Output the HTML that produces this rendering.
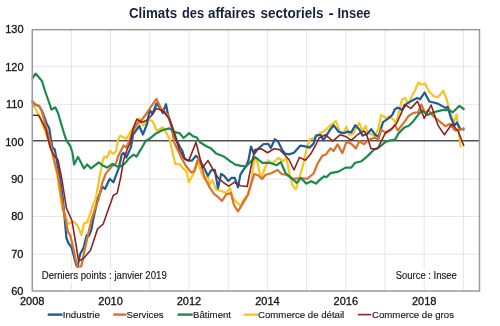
<!DOCTYPE html>
<html><head><meta charset="utf-8"><style>
html,body{margin:0;padding:0;background:#fff;width:500px;height:326px;overflow:hidden}
svg{display:block;font-family:"Liberation Sans",sans-serif;filter:blur(0.35px)}
</style></head><body>
<svg width="500" height="326" viewBox="0 0 500 326">
<rect x="0" y="0" width="500" height="326" fill="#ffffff"/>
<line x1="32.3" y1="66.7" x2="479.5" y2="66.7" stroke="#e6e6e6" stroke-width="1"/>
<line x1="32.3" y1="104.3" x2="479.5" y2="104.3" stroke="#e6e6e6" stroke-width="1"/>
<line x1="32.3" y1="179.1" x2="479.5" y2="179.1" stroke="#e6e6e6" stroke-width="1"/>
<line x1="32.3" y1="216.5" x2="479.5" y2="216.5" stroke="#e6e6e6" stroke-width="1"/>
<line x1="32.3" y1="254.2" x2="479.5" y2="254.2" stroke="#e6e6e6" stroke-width="1"/>
<line x1="71.4" y1="29.7" x2="71.4" y2="291.0" stroke="#e6e6e6" stroke-width="1"/>
<line x1="110.6" y1="29.7" x2="110.6" y2="291.0" stroke="#e6e6e6" stroke-width="1"/>
<line x1="149.8" y1="29.7" x2="149.8" y2="291.0" stroke="#e6e6e6" stroke-width="1"/>
<line x1="189.0" y1="29.7" x2="189.0" y2="291.0" stroke="#e6e6e6" stroke-width="1"/>
<line x1="228.2" y1="29.7" x2="228.2" y2="291.0" stroke="#e6e6e6" stroke-width="1"/>
<line x1="267.4" y1="29.7" x2="267.4" y2="291.0" stroke="#e6e6e6" stroke-width="1"/>
<line x1="306.6" y1="29.7" x2="306.6" y2="291.0" stroke="#e6e6e6" stroke-width="1"/>
<line x1="345.8" y1="29.7" x2="345.8" y2="291.0" stroke="#e6e6e6" stroke-width="1"/>
<line x1="385.0" y1="29.7" x2="385.0" y2="291.0" stroke="#e6e6e6" stroke-width="1"/>
<line x1="424.2" y1="29.7" x2="424.2" y2="291.0" stroke="#e6e6e6" stroke-width="1"/>
<line x1="463.4" y1="29.7" x2="463.4" y2="291.0" stroke="#e6e6e6" stroke-width="1"/>
<line x1="32.3" y1="140.8" x2="479.5" y2="140.8" stroke="#525252" stroke-width="1.4"/>
<polyline fill="none" stroke="#f3c623" stroke-width="2.2" stroke-linejoin="round" stroke-linecap="round" points="32.5,104.0 36.1,110.0 39.2,116.0 44.7,130.0 50.0,145.0 54.0,160.0 58.0,180.0 62.4,209.6 64.8,214.4 68.0,224.0 73.6,221.6 77.6,225.6 81.3,235.2 84.0,223.2 87.2,222.4 90.4,212.8 92.0,208.0 95.8,198.5 99.6,176.8 102.4,162.1 104.2,156.6 107.0,157.5 109.7,151.0 113.4,153.8 116.2,151.0 118.0,140.0 120.2,135.8 123.9,137.6 126.4,138.8 130.7,131.5 135.6,124.7 139.2,118.4 143.2,125.6 148.0,119.2 152.8,121.6 156.5,130.3 159.5,129.5 162.6,127.2 166.0,132.0 169.5,139.0 172.0,150.2 175.2,163.8 179.2,163.8 183.2,168.6 186.4,171.0 188.8,182.2 193.6,173.4 197.6,160.6 201.6,173.4 204.8,179.0 208.0,175.0 209.2,185.0 212.4,180.2 216.4,189.8 220.4,190.6 226.0,193.0 230.0,188.2 233.2,198.6 240.5,206.0 244.0,199.0 247.6,194.6 251.6,181.0 254.4,156.4 257.6,162.8 260.8,178.8 264.0,170.0 268.0,160.4 272.0,163.6 278.4,158.0 283.2,161.2 286.4,158.0 290.4,178.0 292.8,186.0 296.0,189.2 300.0,175.6 303.2,164.4 306.8,148.0 310.0,139.2 312.8,138.8 320.8,132.4 324.8,130.8 329.6,126.0 336.0,121.2 340.0,132.4 343.2,133.2 346.4,126.8 348.8,134.8 352.8,134.0 359.2,122.8 362.4,130.8 365.6,126.0 367.4,132.2 374.7,135.9 378.4,128.5 381.2,114.8 386.0,118.0 390.0,116.4 394.0,120.3 395.9,123.0 399.6,110.1 402.0,99.6 405.2,98.0 408.6,104.0 411.6,96.4 414.8,90.8 418.3,82.5 422.0,84.7 425.0,83.5 429.3,91.8 433.6,96.1 437.9,97.2 443.3,90.7 446.5,99.3 449.7,110.1 452.8,120.0 454.5,121.0 456.5,114.5 458.5,130.0 460.5,146.5"/>
<polyline fill="none" stroke="#1d5c94" stroke-width="2.2" stroke-linejoin="round" stroke-linecap="round" points="32.5,101.5 35.0,104.5 39.2,106.2 42.0,111.0 46.8,124.0 49.2,128.0 50.8,138.4 52.4,147.2 54.8,149.6 56.4,158.4 60.0,178.0 63.0,200.0 66.4,238.0 68.4,243.0 71.5,247.3 76.4,265.7 77.6,266.9 80.0,254.6 83.7,247.3 86.8,235.0 88.8,236.0 91.2,230.4 93.6,217.6 97.8,198.9 102.4,186.9 105.1,188.8 109.7,178.7 113.4,182.3 118.9,167.6 121.7,154.7 123.5,152.9 126.3,157.5 130.9,147.4 133.1,134.5 139.3,126.0 142.9,134.5 147.2,123.5 149.6,110.0 152.4,114.0 156.6,103.4 160.0,108.0 162.8,113.0 166.0,104.2 168.0,114.6 171.6,125.2 174.0,132.0 177.0,141.0 180.0,147.0 182.4,151.0 184.8,159.0 188.0,160.6 192.0,160.6 196.0,155.8 199.2,159.0 203.2,166.2 208.0,175.8 211.2,170.2 214.8,169.8 218.0,188.2 221.2,173.8 224.4,176.2 228.4,181.0 231.6,177.8 234.8,177.8 238.0,187.4 240.4,174.6 242.8,170.6 246.0,166.4 248.5,160.0 251.0,146.5 254.0,154.0 258.0,148.8 263.6,144.0 268.4,144.0 270.8,148.0 274.8,139.2 278.0,141.6 282.0,149.6 285.2,153.6 289.2,154.4 294.0,152.8 300.4,145.6 305.2,146.4 309.6,147.6 313.6,143.6 316.0,135.6 320.8,134.8 323.2,140.4 326.4,135.6 330.4,129.2 333.6,125.2 338.4,131.6 343.2,133.2 348.0,131.6 351.2,132.4 355.2,125.2 359.2,129.2 362.4,135.6 367.2,134.0 371.2,129.2 375.2,134.8 378.4,136.8 383.0,122.1 388.5,118.4 392.4,114.8 394.8,109.2 398.0,107.6 402.0,110.0 406.8,103.6 412.4,100.4 417.2,98.0 420.0,99.3 424.6,92.5 429.3,101.5 433.6,102.5 437.9,103.6 445.4,107.9 447.6,106.8 450.8,117.5 454.5,125.5 457.0,122.5 460.3,129.0 463.6,129.5"/>
<polyline fill="none" stroke="#d8722c" stroke-width="2.2" stroke-linejoin="round" stroke-linecap="round" points="32.5,101.0 34.6,104.2 39.2,105.7 41.5,110.3 46.0,126.8 50.8,144.0 54.0,160.0 58.0,175.0 62.0,200.0 64.0,212.0 68.0,232.0 70.2,235.0 73.3,248.5 77.0,266.3 81.3,266.3 84.4,251.0 88.0,235.0 91.2,220.8 95.2,208.0 98.7,198.9 102.4,182.3 106.0,173.1 111.6,166.7 116.2,163.0 118.0,156.6 120.8,151.0 123.5,145.5 126.3,147.4 129.0,141.8 132.0,133.0 137.0,124.0 141.0,121.0 146.4,113.6 151.2,106.4 156.4,99.0 160.8,108.0 167.4,114.6 170.6,123.0 174.4,143.0 180.8,156.6 185.6,165.4 191.2,172.6 194.4,171.0 198.4,158.2 201.6,166.0 204.8,178.2 208.0,184.0 210.0,188.2 214.0,193.8 218.0,197.0 222.0,201.0 226.0,194.6 230.8,193.0 234.0,205.0 238.0,211.4 242.8,203.4 248.0,194.8 251.2,183.6 254.4,174.0 258.4,175.6 262.4,178.8 265.6,174.8 271.2,173.2 277.6,170.0 281.6,174.0 286.4,174.8 292.8,178.8 300.8,178.0 307.2,178.8 313.5,173.5 317.6,163.5 322.4,155.6 325.6,154.8 330.4,148.4 333.6,150.8 337.6,144.4 342.4,153.2 346.4,142.0 351.2,143.6 356.0,148.4 359.2,141.2 363.7,144.2 369.2,139.6 374.7,137.8 378.4,139.6 381.2,129.5 385.8,133.1 390.4,130.4 395.0,124.9 397.8,130.4 404.2,122.1 408.8,115.7 413.4,112.9 418.0,112.4 421.2,104.4 425.2,113.2 428.3,110.1 433.6,116.5 440.1,121.9 445.4,126.2 449.7,124.0 455.1,130.5 461.5,129.4 463.7,128.3"/>
<polyline fill="none" stroke="#1d8a4c" stroke-width="2.2" stroke-linejoin="round" stroke-linecap="round" points="32.5,78.4 35.5,73.6 42.0,81.0 45.0,91.0 47.5,98.0 51.5,109.6 55.3,107.3 58.0,113.0 64.5,135.0 66.5,140.5 70.3,146.0 72.5,153.0 74.1,164.5 78.0,156.9 84.1,168.4 87.2,164.5 91.0,168.4 98.8,162.4 103.3,165.8 107.0,167.6 112.5,163.9 118.9,167.2 124.4,163.9 129.0,158.4 133.7,154.7 136.4,156.6 141.0,149.2 145.6,141.0 150.3,138.2 156.4,133.2 162.8,130.0 169.2,128.4 175.6,132.4 179.6,133.2 183.6,138.0 189.2,133.2 193.2,136.4 196.4,137.2 200.0,142.2 206.4,146.2 211.2,148.6 216.0,153.4 224.0,156.6 230.4,161.4 235.2,164.6 241.2,165.8 246.0,166.4 249.6,162.8 255.2,157.2 262.4,162.8 269.6,162.8 276.8,165.2 280.8,162.0 285.6,173.2 291.2,178.0 296.8,182.8 300.8,178.0 306.4,183.6 311.2,181.2 316.0,183.6 320.0,179.6 324.0,176.4 326.4,177.2 330.4,173.2 338.4,171.6 345.6,167.6 351.2,167.6 355.2,162.8 361.6,161.2 367.2,156.4 373.6,150.0 379.5,147.0 384.9,142.3 389.5,140.5 395.0,139.6 398.7,133.1 404.2,127.6 408.8,125.8 413.4,121.2 418.9,113.8 422.3,110.5 427.5,115.0 433.6,112.2 442.2,110.1 448.7,110.1 452.9,112.2 459.4,105.8 463.7,109.0"/>
<polyline fill="none" stroke="#8a2424" stroke-width="1.6" stroke-linejoin="round" stroke-linecap="round" points="32.5,115.2 38.6,115.2 42.3,121.9 46.0,130.0 50.0,147.2 53.2,154.4 58.0,160.0 62.0,180.0 66.4,208.0 72.0,220.8 75.2,240.0 78.6,260.8 83.1,258.9 90.5,250.3 97.6,228.8 103.2,224.0 108.8,208.0 113.4,195.2 117.1,193.4 120.8,176.8 123.5,160.2 127.2,149.2 130.0,143.7 133.1,128.4 136.8,119.2 141.7,122.3 146.6,120.4 151.5,115.5 156.4,108.4 162.8,110.8 169.2,118.8 174.0,133.2 179.2,149.4 184.0,158.2 188.8,160.6 196.0,142.2 202.4,167.8 208.0,160.6 214.4,171.8 218.4,178.2 224.0,183.0 228.8,186.2 234.4,182.2 240.4,185.8 247.2,186.5 249.6,174.0 252.8,158.0 255.0,149.6 261.2,148.8 267.6,152.8 274.0,148.8 279.6,149.6 284.4,154.4 289.2,160.0 294.0,170.0 299.4,157.4 305.4,160.2 311.2,153.2 315.2,146.0 319.2,138.0 325.6,134.8 332.8,141.2 340.0,134.8 345.6,136.4 351.2,140.4 358.4,134.0 364.0,131.0 366.4,134.1 371.0,148.8 377.5,148.8 382.1,139.6 385.8,132.2 392.2,128.5 396.8,123.0 401.4,112.9 404.4,104.4 410.8,108.4 417.5,101.3 424.2,118.3 431.1,105.0 437.9,125.1 444.4,134.8 451.9,124.0 458.3,131.5 463.7,145.5"/>
<rect x="32.3" y="29.7" width="447.2" height="261.3" fill="none" stroke="#9a9a9a" stroke-width="1.5"/>
<text x="23.5" y="295.1" text-anchor="end" font-size="11" fill="#151515" stroke="#151515" stroke-width="0.3">60</text>
<text x="23.5" y="257.7" text-anchor="end" font-size="11" fill="#151515" stroke="#151515" stroke-width="0.3">70</text>
<text x="23.5" y="220.3" text-anchor="end" font-size="11" fill="#151515" stroke="#151515" stroke-width="0.3">80</text>
<text x="23.5" y="182.9" text-anchor="end" font-size="11" fill="#151515" stroke="#151515" stroke-width="0.3">90</text>
<text x="23.5" y="145.5" text-anchor="end" font-size="11" fill="#151515" stroke="#151515" stroke-width="0.3">100</text>
<text x="23.5" y="108.1" text-anchor="end" font-size="11" fill="#151515" stroke="#151515" stroke-width="0.3">110</text>
<text x="23.5" y="70.7" text-anchor="end" font-size="11" fill="#151515" stroke="#151515" stroke-width="0.3">120</text>
<text x="23.5" y="33.3" text-anchor="end" font-size="11" fill="#151515" stroke="#151515" stroke-width="0.3">130</text>
<text x="32.2" y="305" text-anchor="middle" font-size="11" fill="#151515" stroke="#151515" stroke-width="0.3">2008</text>
<text x="110.6" y="305" text-anchor="middle" font-size="11" fill="#151515" stroke="#151515" stroke-width="0.3">2010</text>
<text x="189.0" y="305" text-anchor="middle" font-size="11" fill="#151515" stroke="#151515" stroke-width="0.3">2012</text>
<text x="267.4" y="305" text-anchor="middle" font-size="11" fill="#151515" stroke="#151515" stroke-width="0.3">2014</text>
<text x="345.8" y="305" text-anchor="middle" font-size="11" fill="#151515" stroke="#151515" stroke-width="0.3">2016</text>
<text x="424.2" y="305" text-anchor="middle" font-size="11" fill="#151515" stroke="#151515" stroke-width="0.3">2018</text>
<text x="129.0" y="17.9" font-size="14.5" font-weight="bold" textLength="48.05" lengthAdjust="spacingAndGlyphs" fill="#18203f">Climats</text>
<text x="182.0" y="17.9" font-size="14.5" font-weight="bold" textLength="22.08" lengthAdjust="spacingAndGlyphs" fill="#18203f">des</text>
<text x="208.0" y="17.9" font-size="14.5" font-weight="bold" textLength="47.52" lengthAdjust="spacingAndGlyphs" fill="#18203f">affaires</text>
<text x="260.5" y="17.9" font-size="14.5" font-weight="bold" textLength="63.04" lengthAdjust="spacingAndGlyphs" fill="#18203f">sectoriels</text>
<text x="328.6" y="17.9" font-size="14.5" font-weight="bold" textLength="5.3" lengthAdjust="spacingAndGlyphs" fill="#18203f">-</text>
<text x="337.5" y="17.9" font-size="14.5" font-weight="bold" textLength="33.05" lengthAdjust="spacingAndGlyphs" fill="#18203f">Insee</text>
<rect x="40" y="269.5" width="129" height="12" fill="#fff"/>
<rect x="392" y="269.5" width="67" height="12" fill="#fff"/>
<text transform="translate(41.8,279.3) scale(1,1.09)" font-size="9.62" fill="#1a1a1a" stroke="#1a1a1a" stroke-width="0.15">Derniers points : janvier 2019</text>
<text transform="translate(395.8,278.9) scale(1,1.08)" font-size="9.45" fill="#1a1a1a" stroke="#1a1a1a" stroke-width="0.15">Source : Insee</text>
<line x1="47.7" y1="314.6" x2="62.5" y2="314.6" stroke="#1d5c94" stroke-width="2.4"/>
<text transform="translate(62.8,317.6) scale(1,1.02)" font-size="9.65" fill="#1a1a1a" stroke="#1a1a1a" stroke-width="0.15">Industrie</text>
<line x1="113.2" y1="314.6" x2="126.5" y2="314.6" stroke="#d8722c" stroke-width="2.4"/>
<text transform="translate(126.6,317.6) scale(1,1.02)" font-size="9.65" fill="#1a1a1a" stroke="#1a1a1a" stroke-width="0.15">Services</text>
<line x1="177.6" y1="314.6" x2="192.7" y2="314.6" stroke="#1d8a4c" stroke-width="2.4"/>
<text transform="translate(193,317.6) scale(1,1.02)" font-size="9.65" fill="#1a1a1a" stroke="#1a1a1a" stroke-width="0.15">Bâtiment</text>
<line x1="243.6" y1="314.6" x2="258" y2="314.6" stroke="#f3c623" stroke-width="2.4"/>
<text transform="translate(258,317.6) scale(1,1.02)" font-size="9.65" fill="#1a1a1a" stroke="#1a1a1a" stroke-width="0.15">Commerce de détail</text>
<line x1="357.8" y1="314.6" x2="371.2" y2="314.6" stroke="#8a2424" stroke-width="1.6"/>
<text transform="translate(372,317.6) scale(1,1.02)" font-size="9.65" fill="#1a1a1a" stroke="#1a1a1a" stroke-width="0.15">Commerce de gros</text>
</svg>
</body></html>
